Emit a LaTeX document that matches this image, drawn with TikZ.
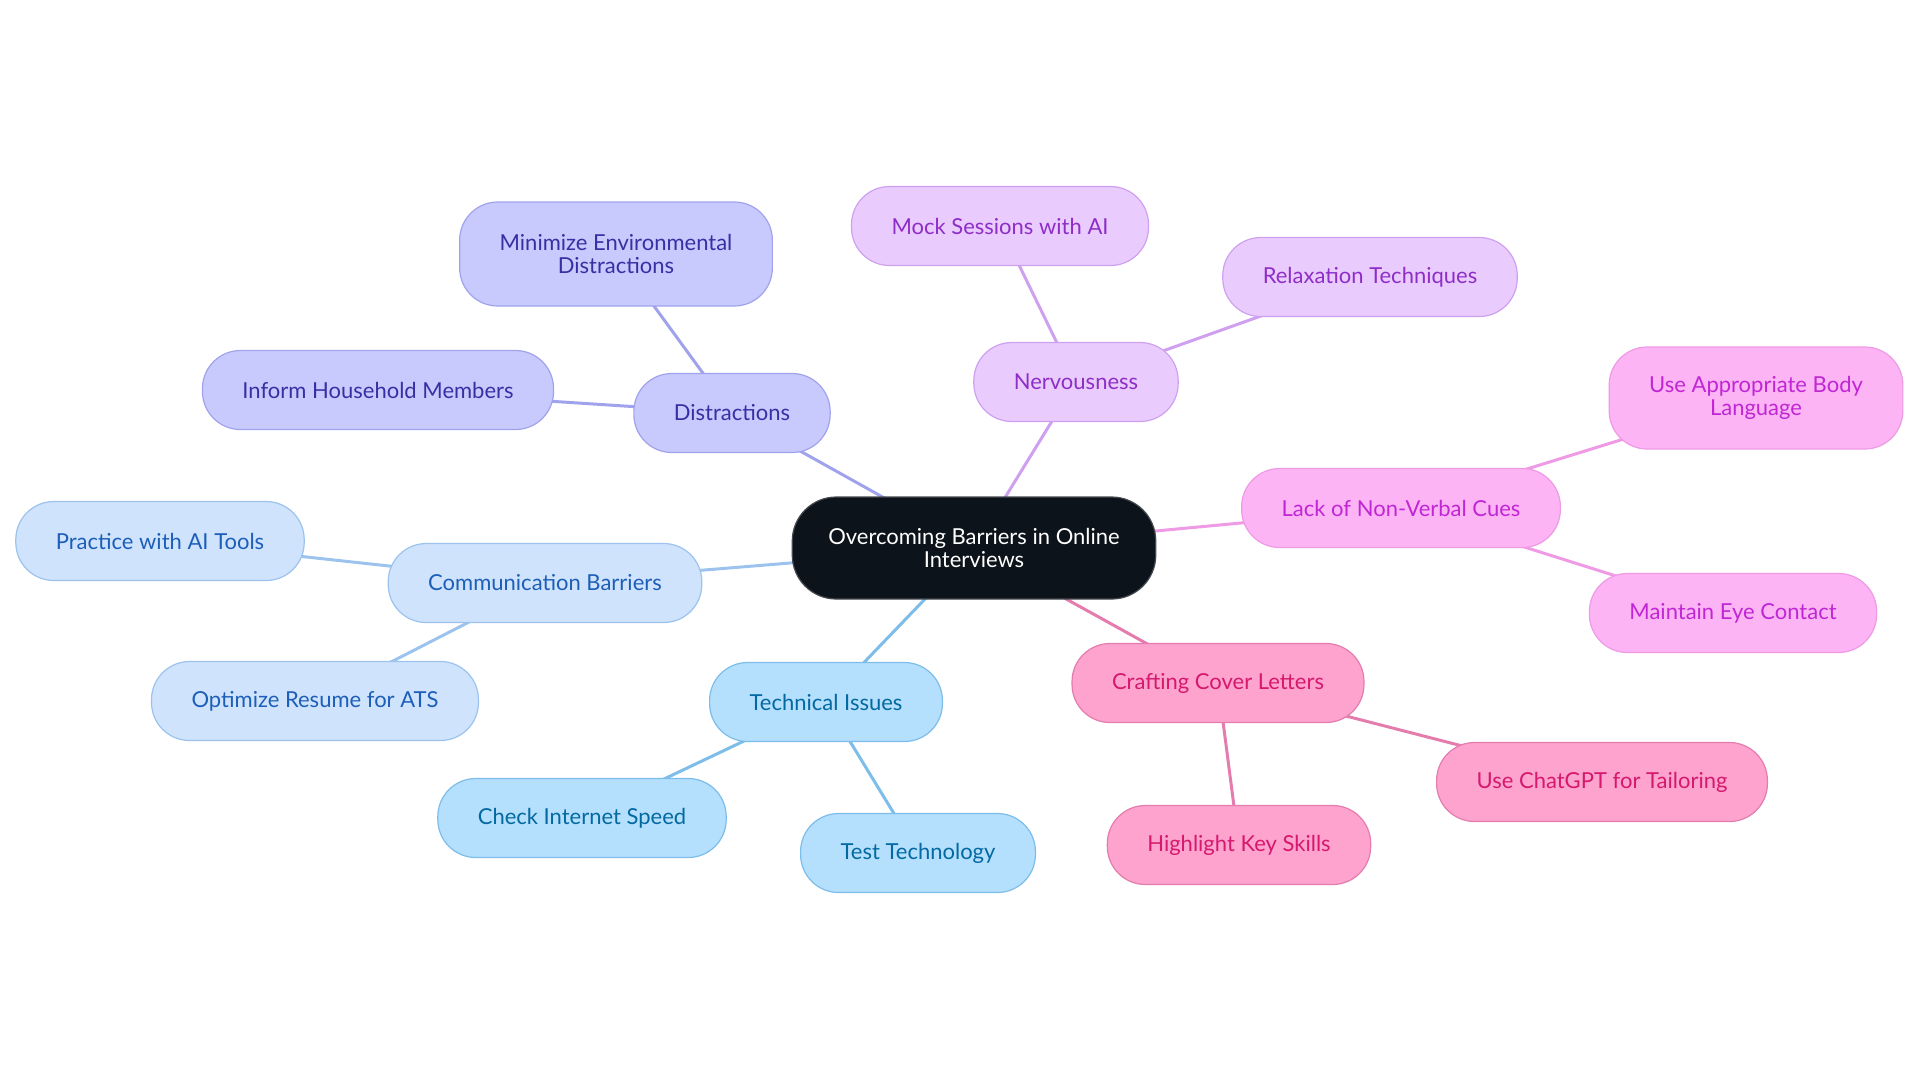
\documentclass[tikz,border=0pt]{standalone}
\usepackage{fontspec}
\setmainfont{Lato}
\usetikzlibrary{positioning,backgrounds}
\definecolor{rootfill}{RGB}{13,19,26}
\definecolor{rootline}{RGB}{70,74,80}
\definecolor{distfill}{RGB}{200,202,254}
\definecolor{distline}{RGB}{160,163,236}
\definecolor{disttext}{RGB}{55,48,163}
\definecolor{nervfill}{RGB}{233,204,253}
\definecolor{nervline}{RGB}{207,160,240}
\definecolor{nervtext}{RGB}{142,46,199}
\definecolor{lackfill}{RGB}{253,180,245}
\definecolor{lackline}{RGB}{238,154,228}
\definecolor{lacktext}{RGB}{192,38,211}
\definecolor{craftfill}{RGB}{253,163,206}
\definecolor{craftline}{RGB}{228,124,174}
\definecolor{crafttext}{RGB}{214,24,110}
\definecolor{techfill}{RGB}{180,223,253}
\definecolor{techline}{RGB}{125,189,233}
\definecolor{techtext}{RGB}{3,105,161}
\definecolor{commfill}{RGB}{207,227,252}
\definecolor{commline}{RGB}{156,195,238}
\definecolor{commtext}{RGB}{29,95,184}

\begin{document}
\begin{tikzpicture}[x=0.5pt,y=-0.5pt,
  box/.style={draw,rounded corners=19pt,minimum height=39.5pt,inner xsep=20pt,align=center,line width=0.6pt,font=\fontsize{11}{11.5}\selectfont},
  rootbox/.style={box,fill=rootfill,draw=rootline,text=white,minimum height=51pt,inner xsep=18pt,rounded corners=22pt},
  distbox/.style={box,fill=distfill,draw=distline,text=disttext},
  nervbox/.style={box,fill=nervfill,draw=nervline,text=nervtext},
  lackbox/.style={box,fill=lackfill,draw=lackline,text=lacktext},
  craftbox/.style={box,fill=craftfill,draw=craftline,text=crafttext},
  techbox/.style={box,fill=techfill,draw=techline,text=techtext},
  commbox/.style={box,fill=commfill,draw=commline,text=commtext},
  link/.style={line width=1.5pt}]
  \useasboundingbox (0,0) rectangle (1920,1083);
  \node[rootbox] (root) at (974,548) {Overcoming Barriers in Online\\Interviews};
  \node[distbox] (dist) at (732,413) {Distractions};
  \node[distbox,minimum height=52pt] (envdist) at (616,254) {Minimize Environmental\\Distractions};
  \node[distbox] (household) at (378,390) {Inform Household Members};
  \node[nervbox] (nerv) at (1076,382) {Nervousness};
  \node[nervbox] (mock) at (1000,226) {Mock Sessions with AI};
  \node[nervbox] (relax) at (1370,277) {Relaxation Techniques};
  \node[lackbox] (lack) at (1401,508) {Lack of Non-Verbal Cues};
  \node[lackbox,minimum height=51pt] (body) at (1756,398) {Use Appropriate Body\\Language};
  \node[lackbox] (eye) at (1733,613) {Maintain Eye Contact};
  \node[craftbox] (craft) at (1218,683) {Crafting Cover Letters};
  \node[craftbox] (chatgpt) at (1602,782) {Use ChatGPT for Tailoring};
  \node[craftbox] (skills) at (1239,845) {Highlight Key Skills};
  \node[techbox] (tech) at (826,702) {Technical Issues};
  \node[techbox] (speed) at (582,818) {Check Internet Speed};
  \node[techbox] (testtech) at (918,853) {Test Technology};
  \node[commbox] (comm) at (545,583) {Communication Barriers};
  \node[commbox] (practice) at (160,541) {Practice with AI Tools};
  \node[commbox] (resume) at (315,701) {Optimize Resume for ATS};
  \begin{pgfonlayer}{background}
    \draw[link,distline] (root.center) -- (dist.center);
    \draw[link,distline] (dist.center) -- (envdist.center);
    \draw[link,distline] (dist.center) -- (household.center);
    \draw[link,nervline] (root.center) -- (nerv.center);
    \draw[link,nervline] (nerv.center) -- (mock.center);
    \draw[link,nervline] (nerv.center) -- (relax.center);
    \draw[link,lackline] (root.center) -- (lack.center);
    \draw[link,lackline] (lack.center) -- (body.center);
    \draw[link,lackline] (lack.center) -- (eye.center);
    \draw[link,craftline] (root.center) -- (craft.center);
    \draw[link,craftline] (craft.center) -- (chatgpt.center);
    \draw[link,craftline] (craft.center) -- (skills.center);
    \draw[link,techline] (root.center) -- (tech.center);
    \draw[link,techline] (tech.center) -- (speed.center);
    \draw[link,techline] (tech.center) -- (testtech.center);
    \draw[link,commline] (root.center) -- (comm.center);
    \draw[link,commline] (comm.center) -- (practice.center);
    \draw[link,commline] (comm.center) -- (resume.center);
  \end{pgfonlayer}
\end{tikzpicture}
\end{document}
